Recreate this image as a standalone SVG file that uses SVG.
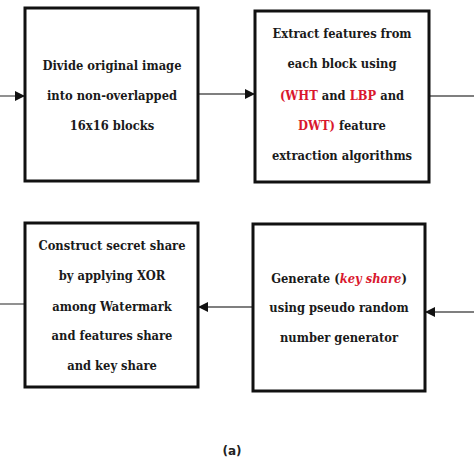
<svg xmlns="http://www.w3.org/2000/svg" width="474" height="474" viewBox="0 0 474 474">
<style>
.box{fill:#fff;stroke:#111;stroke-width:3}
.t{font-family:'DejaVu Serif Condensed','DejaVu Serif',serif;font-stretch:condensed;font-weight:700;font-size:12.8px;fill:#1a1a1a;text-anchor:middle}
.r{fill:#d9172e}
.c{stroke:#555;stroke-width:1.3;fill:none}
.cap{font-family:'DejaVu Sans',sans-serif;font-weight:700;font-size:12px;fill:#222;text-anchor:middle}
</style>
<defs>
<marker id="ah" markerWidth="10" markerHeight="10" refX="10" refY="5" orient="auto" markerUnits="userSpaceOnUse">
<path d="M0,0 L10,5 L0,10 Z" fill="#111"/>
</marker>
</defs>
<rect width="474" height="474" fill="#fff"/>
<g id="connectors">
<line class="c" x1="0" y1="96" x2="25" y2="96" marker-end="url(#ah)"/>
<line class="c" x1="198" y1="94" x2="255" y2="94" marker-end="url(#ah)"/>
<line class="c" x1="429" y1="96" x2="474" y2="96"/>
<line class="c" x1="474" y1="312" x2="425" y2="312" marker-end="url(#ah)"/>
<line class="c" x1="253" y1="307" x2="198" y2="307" marker-end="url(#ah)"/>
<line class="c" x1="25" y1="304" x2="0" y2="304"/>
</g>
<g id="node1">
<rect class="box" x="25" y="8" width="173" height="173"/>
<text class="t" x="112" y="70">Divide original image</text>
<text class="t" x="112" y="100">into non-overlapped</text>
<text class="t" x="112" y="130">16x16 blocks</text>
</g>
<g id="node2">
<rect class="box" x="255" y="11" width="174" height="171"/>
<text class="t" x="342" y="38">Extract features from</text>
<text class="t" x="342" y="68">each block using</text>
<text class="t" x="342" y="100"><tspan class="r">(WHT</tspan> and <tspan class="r">LBP</tspan> and</text>
<text class="t" x="342" y="130"><tspan class="r">DWT)</tspan> feature</text>
<text class="t" x="342" y="160">extraction algorithms</text>
</g>
<g id="node3">
<rect class="box" x="25" y="223" width="173" height="164"/>
<text class="t" x="112" y="250">Construct secret share</text>
<text class="t" x="112" y="280">by applying XOR</text>
<text class="t" x="112" y="311">among Watermark</text>
<text class="t" x="112" y="340">and features share</text>
<text class="t" x="112" y="370">and key share</text>
</g>
<g id="node4">
<rect class="box" x="253" y="224" width="172" height="167"/>
<text class="t" x="339" y="283">Generate (<tspan class="r" font-style="italic">key share</tspan>)</text>
<text class="t" x="339" y="312">using pseudo random</text>
<text class="t" x="339" y="342">number generator</text>
</g>
<text class="cap" x="232" y="455">(a)</text>
</svg>
